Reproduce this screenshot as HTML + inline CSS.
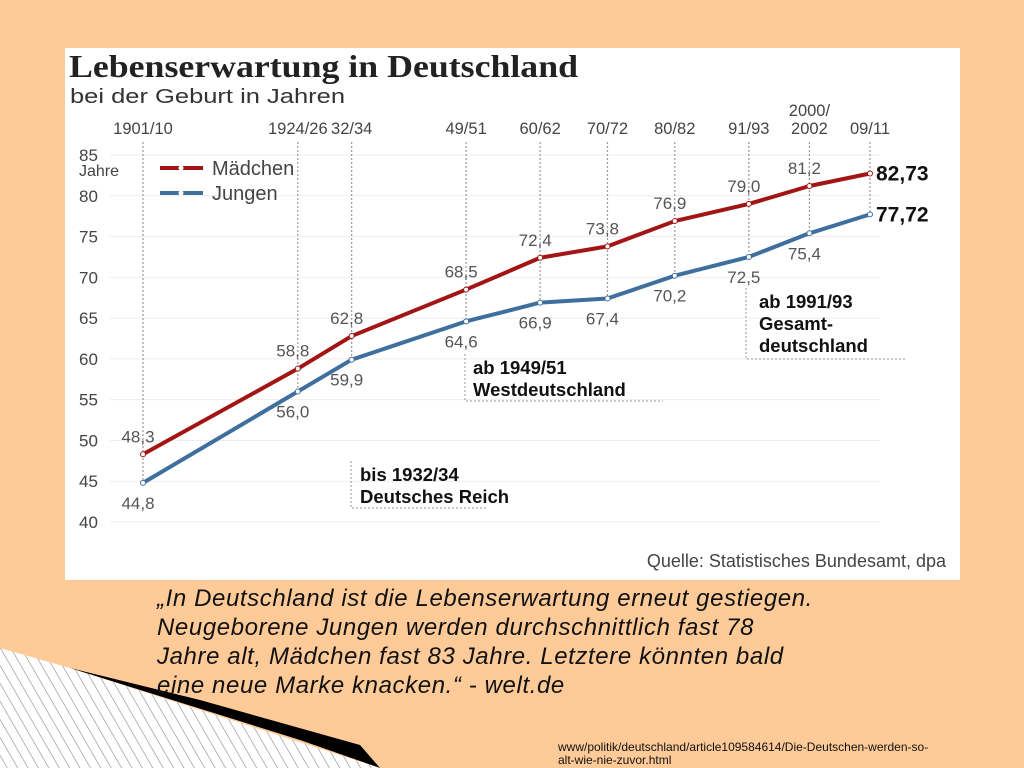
<!DOCTYPE html>
<html><head><meta charset="utf-8"><style>
body{margin:0;width:1024px;height:768px;background:#fdca98;overflow:hidden;position:relative;font-family:"Liberation Sans",sans-serif}
#panel{position:absolute;left:65px;top:48px;width:895px;height:532px;background:#fff}
#quote{position:absolute;left:157px;top:584px;font-size:24px;letter-spacing:0.6px;font-style:italic;line-height:29px;color:#111;white-space:nowrap}
#url{position:absolute;left:558px;top:741px;font-size:12px;line-height:13px;color:#111;width:420px}
</style></head><body>
<svg width="1024" height="768" style="position:absolute;left:0;top:0">
<defs><pattern id="hatch" width="9" height="9" patternUnits="userSpaceOnUse" patternTransform="rotate(-30)"><rect width="9" height="9" fill="#fff"/><line x1="0" y1="0" x2="0" y2="9" stroke="#888" stroke-width="1.2"/></pattern></defs>
<polygon points="0,648 70,668 380,768 0,768" fill="url(#hatch)"/>
<polygon points="70,668 200,700 360,745 380,768 300,740" fill="#000"/>
</svg>
<div id="panel"></div>
<svg id="chart" width="1024" height="768" style="position:absolute;left:0;top:0"></svg>
<div id="quote">„In Deutschland ist die Lebenserwartung erneut gestiegen.<br>Neugeborene Jungen werden durchschnittlich fast 78<br>Jahre alt, Mädchen fast 83 Jahre. Letztere könnten bald<br>eine neue Marke knacken.“ - welt.de</div>
<div id="url">www/politik/deutschland/article109584614/Die-Deutschen-werden-so-<br>alt-wie-nie-zuvor.html</div>
<script>
const periods=["1901/10","1924/26","32/34","49/51","60/62","70/72","80/82","91/93","2000/\n2002","09/11"];
const startYears=[1901,1924,1932,1949,1960,1970,1980,1991,2000,2009];
const girls=[48.3,58.8,62.8,68.5,72.4,73.8,76.9,79.0,81.2,82.73];
const boys=[44.8,56.0,59.9,64.6,66.9,67.4,70.2,72.5,75.4,77.72];
const yTicks=[40,45,50,55,60,65,70,75,80,85];
const NS="http://www.w3.org/2000/svg";
const svg=document.getElementById('chart');
const x=y=>143+(y-1901)*(870-143)/(2009-1901);
const yS=v=>522-(v-40)*(522-155)/45;
const fmt=(v,i)=>i===9?v.toFixed(2).replace('.',','):v.toFixed(1).replace('.',',');
function el(t,a,txt){const e=document.createElementNS(NS,t);for(const k in a)e.setAttribute(k,a[k]);if(txt!==undefined)e.textContent=txt;svg.appendChild(e);return e;}
const F='"Liberation Sans",sans-serif';
let e=el('text',{x:69,y:77,'font-family':'"Liberation Serif",serif','font-size':32,'font-weight':'bold',fill:'#222',textLength:509,lengthAdjust:'spacingAndGlyphs'},'Lebenserwartung in Deutschland');

e=el('text',{x:70,y:103,'font-family':F,'font-size':20,fill:'#333',textLength:275,lengthAdjust:'spacingAndGlyphs'},'bei der Geburt in Jahren');

yTicks.forEach(t=>{
 let g=el('line',{x1:110,x2:880,y1:yS(t),y2:yS(t),stroke:'#eee','stroke-width':1});
 
 let l=el('text',{x:79,y:yS(t)+6,'font-family':F,'font-size':17,fill:'#444'},String(t));
 
});
e=el('text',{x:79,y:176,'font-family':F,'font-size':16,fill:'#444'},'Jahre');

startYears.forEach((yr,i)=>{
 const px=x(yr);
 let ln=el('line',{x1:px,x2:px,y1:142,y2:yS(boys[i]),stroke:'#999','stroke-width':1.2,'stroke-dasharray':'2,2'});
 
 const parts=periods[i].split('\n');
 parts.forEach((p,j)=>{
  let t=el('text',{x:px,y:(parts.length>1?116:134)+j*18,'text-anchor':'middle','font-family':F,'font-size':16.5,fill:'#444'},p);
  
 });
});
function series(vals,color,name,dy){
 let p=el('polyline',{points:vals.map((v,i)=>x(startYears[i])+','+yS(v)).join(' '),fill:'none',stroke:color,'stroke-width':4,'stroke-linejoin':'round'});
 
 vals.forEach((v,i)=>{
  let c=el('circle',{cx:x(startYears[i]),cy:yS(v),r:2.5,fill:'#fff',stroke:color,'stroke-width':1});
  
  let t;
  if(i===9){t=el('text',{x:x(startYears[i])+6,y:yS(v)+7,'font-family':F,'font-size':21,'font-weight':'bold',fill:'#111'},fmt(v,i));}
  else{t=el('text',{x:x(startYears[i])-5,y:yS(v)+dy,'text-anchor':'middle','font-family':F,'font-size':17,fill:'#555'},fmt(v,i));}
  
 });
}
series(girls,'#a31515','girls',-12);
series(boys,'#3f6f9e','boys',26);
[['#a31515','Mädchen',168],['#3f6f9e','Jungen',193]].forEach(([c,n,yy])=>{
 let l=el('line',{x1:160,x2:203,y1:yy,y2:yy,stroke:c,'stroke-width':4});
 
 let d=el('circle',{cx:181,cy:yy,r:2.5,fill:'#fff'});
 let t=el('text',{x:212,y:yy+7,'font-family':F,'font-size':20,fill:'#444'},n);
 
});
function note(x0,y0,lines,xl,yb,w){
 lines.forEach((s,i)=>{let t=el('text',{x:x0,y:y0+i*22,'font-family':F,'font-size':18.5,'font-weight':'bold',fill:'#111'},s);
 });
 let b=el('polyline',{points:`${xl},${y0-20} ${xl},${yb} ${xl+w},${yb}`,fill:'none',stroke:'#999','stroke-dasharray':'2,2'});
 
}
note(360,481,['bis 1932/34','Deutsches Reich'],351,508,135);
note(473,374,['ab 1949/51','Westdeutschland'],465,401,198);
note(759,308,['ab 1991/93','Gesamt-','deutschland'],746,359,160);
e=el('text',{x:946,y:567,'text-anchor':'end','font-family':F,'font-size':18,fill:'#444'},'Quelle: Statistisches Bundesamt, dpa');

</script>
</body></html>
